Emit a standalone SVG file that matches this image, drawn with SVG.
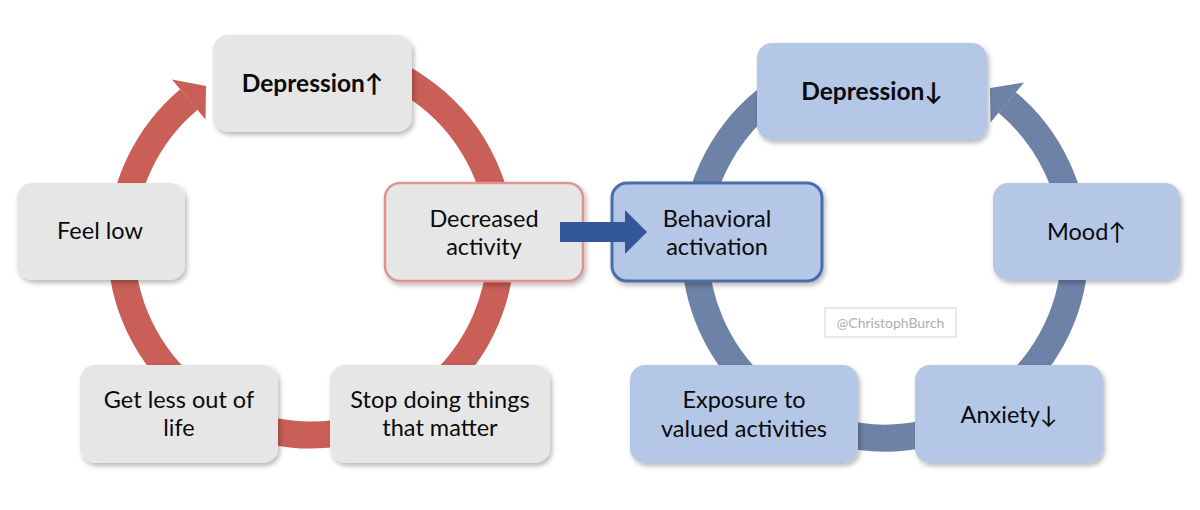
<svg xmlns="http://www.w3.org/2000/svg" width="1200" height="510" viewBox="0 0 1200 510">
<defs>
<filter id="sh" x="-10%" y="-10%" width="125%" height="130%">
<feDropShadow dx="2" dy="3" stdDeviation="2.5" flood-color="#000" flood-opacity="0.28"/>
</filter>
</defs>
<style>
.grey{fill:#E7E6E6;filter:url(#sh)}
.blue{fill:#B4C7E7;filter:url(#sh)}
.t{font-family:Lato,"DejaVu Sans",sans-serif;font-size:23.5px;fill:#0a0a0a;text-anchor:middle}
.b{font-weight:bold;font-size:24.5px}
.redring{fill:none;stroke:#C95F56;stroke-width:27}
.bluering{fill:none;stroke:#6E82A7;stroke-width:27}
</style>
<rect width="1200" height="510" fill="#fff"/>
<g id="connectors">
<path class="redring" d="M188.9,99.5 A190,190 0 1 0 344,57.9"/>
<polygon fill="#C95F56" points="172,79.5 205.5,119.5 206,86"/>
<path class="bluering" d="M1007.1,102.5 A190,190 0 1 1 852,61"/>
<polygon fill="#6E82A7" points="1024,82.5 990.5,122.5 990,88"/>
</g>
<g id="n-dep-up"><rect class="grey" x="213" y="35" width="199" height="97" rx="15"/><text class="t b" x="312.5" y="92">Depression↑</text></g>
<g id="n-feel-low"><rect class="grey" x="17" y="183" width="168" height="97" rx="15"/><text class="t" x="100" y="239">Feel low</text></g>
<g id="n-decreased"><rect class="grey" x="385" y="183" width="198" height="98" rx="15" stroke="#E2938E" stroke-width="2.5"/><text class="t" x="484" y="227">Decreased</text><text class="t" x="484" y="255">activity</text></g>
<g id="n-get-less"><rect class="grey" x="80" y="365" width="198" height="98" rx="15"/><text class="t" x="179" y="408">Get less out of</text><text class="t" x="179" y="436">life</text></g>
<g id="n-stop"><rect class="grey" x="330" y="365" width="220" height="98" rx="15"/><text class="t" x="440" y="408">Stop doing things</text><text class="t" x="440" y="436">that matter</text></g>
<g id="n-behavioral"><rect class="blue" x="612" y="183" width="210" height="98" rx="15" stroke="#4A6DA7" stroke-width="3"/><text class="t" x="717" y="227">Behavioral</text><text class="t" x="717" y="255">activation</text></g>
<g id="n-dep-down"><rect class="blue" x="757" y="43" width="230" height="97" rx="15"/><text class="t b" x="872" y="100">Depression↓</text></g>
<g id="n-mood"><rect class="blue" x="993" y="183" width="187" height="97" rx="15"/><text class="t" x="1086.5" y="240">Mood↑</text></g>
<g id="n-exposure"><rect class="blue" x="630" y="365" width="228" height="98" rx="15"/><text class="t" x="744" y="408">Exposure to</text><text class="t" x="744" y="437">valued activities</text></g>
<g id="n-anxiety"><rect class="blue" x="915" y="365" width="188" height="98" rx="15"/><text class="t" x="1009" y="423">Anxiety↓</text></g>
<g id="link-arrow"><polygon fill="#34579A" points="560,222 625,222 625,210 647,232 625,254 625,242 560,242"/></g>
<g id="watermark"><rect x="825" y="308" width="131" height="29" fill="#fff" stroke="#D9D9D9" stroke-width="1.2"/><text x="890.5" y="328" font-family="Lato,'DejaVu Sans',sans-serif" font-size="14" fill="#AEAEAE" text-anchor="middle">@ChristophBurch</text></g>
</svg>
